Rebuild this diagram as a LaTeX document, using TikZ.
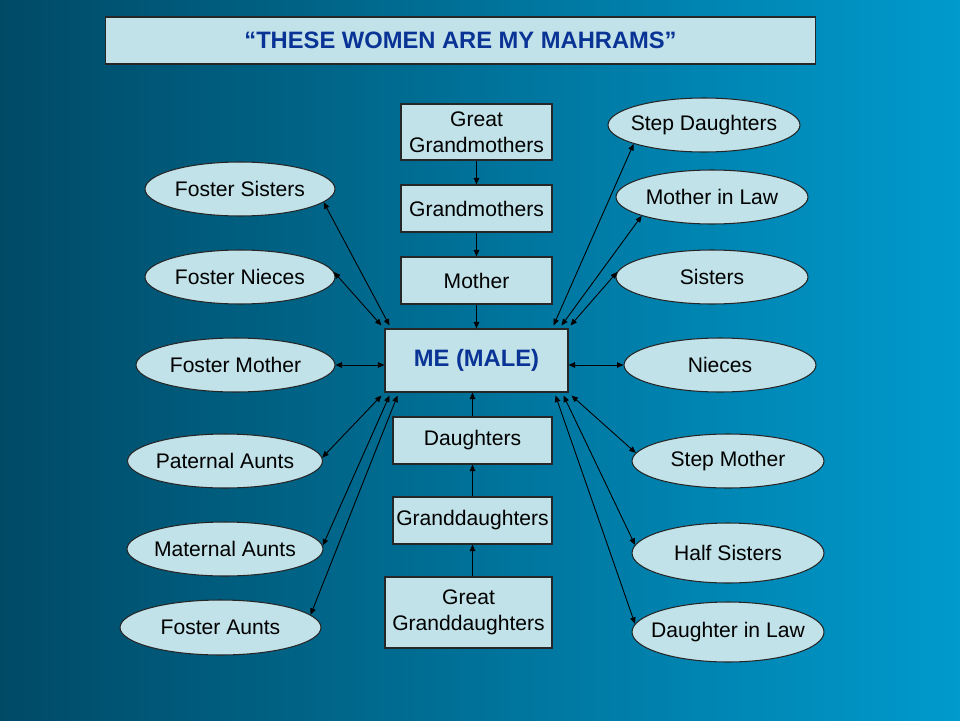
\documentclass[tikz,border=0pt]{standalone}
\usepackage{fontspec}
\setmainfont{Liberation Sans}
\usetikzlibrary{shapes.geometric,arrows.meta,calc}

\definecolor{bgleft}{HTML}{004A66}
\definecolor{bgright}{HTML}{009ACD}
\definecolor{boxfill}{HTML}{C0E2E8}
\definecolor{titleblue}{HTML}{0A3396}

\tikzset{
  box/.style={draw=black!85,fill=boxfill,line width=0.6pt,align=center,inner sep=0,
    minimum width=3.02cm,minimum height=0.94cm,font=\fontsize{12}{14.7}\selectfont},
  oval/.style={ellipse,draw=black!85,fill=boxfill,line width=0.6pt,inner ysep=0,inner xsep=-0.4cm,
    minimum width=3.84cm,minimum height=1.08cm,font=\fontsize{12}{14.7}\selectfont},
  tip/.tip={Triangle[length=1.3mm,width=1.1mm]},
  down/.style={-tip,line width=0.5pt},
  both/.style={tip-tip,line width=0.5pt},
}

\begin{document}
\begin{tikzpicture}[x=0.02cm,y=-0.02cm]
    \fill[left color=bgleft,right color=bgright] (0,0) rectangle (960,720);

    \node(title)[box,minimum width=14.22cm,text=titleblue,font=\bfseries\fontsize{13.5}{16}\selectfont] at (460.5,40.5) {“THESE WOMEN ARE MY MAHRAMS”};

    % middle column
    \node(ggm)[box,minimum height=1.12cm] at (476.5,132) {Great\\Grandmothers};
    \node(gm)[box] at (476.5,208.5) {Grandmothers};
    \node(mo)[box] at (476.5,280.5) {Mother};
    \node(me)[box,minimum width=3.66cm,minimum height=1.26cm,text=titleblue,font=\bfseries\fontsize{13.5}{16}\selectfont] at (476.5,360.5) {ME (MALE)};
    \node(da)[box,minimum width=3.18cm] at (472.5,440.5) {Daughters};
    \node(gd)[box,minimum width=3.18cm] at (472.5,520.5) {Granddaughters};
    \node(ggd)[box,minimum width=3.34cm,minimum height=1.42cm] at (468.5,612.5) {Great\\Granddaughters};

    % left side
    \node(fs)[oval,minimum width=3.8cm] at (240,189) {Foster Sisters};
    \node(fn)[oval,minimum width=3.8cm] at (240,277) {Foster Nieces};
    \node(fm)[oval,minimum width=3.98cm] at (235.5,365) {Foster Mother};
    \node(pa)[oval,minimum width=3.9cm] at (225,461) {Paternal Aunts};
    \node(ma)[oval,minimum width=3.92cm] at (225,549) {Maternal Aunts};
    \node(fa)[oval,minimum width=4.02cm,minimum height=1.1cm] at (220.5,627.5) {Foster Aunts};

    % right side
    \node(sd)[oval] at (704,125) {Step Daughters};
    \node(ml)[oval] at (712,197) {Mother in Law};
    \node(si)[oval] at (712,277) {Sisters};
    \node(ni)[oval] at (720,365) {Nieces};
    \node(sm)[oval] at (728,461) {Step Mother};
    \node(hs)[oval,minimum height=1.2cm] at (728,553) {Half Sisters};
    \node(dl)[oval,minimum height=1.2cm] at (728,632) {Daughter in Law};

    \draw[down] (ggm.south)--(gm.north);
    \draw[down] (gm.south)--(mo.north);
    \draw[down] (mo.south)--(mo.south|-me.north);
    \draw[down] (da.north)--(da.north|-me.south);
    \draw[down] (gd.north)--(da.south);
    \draw[down] (ggd.north-|gd.north)--(gd.south);

    \draw[both] (fs.-9)--($(me.north west)+(5,-3)$);
    \draw[both] (fn.3)--($(me.north west)+(-3,-3)$);
    \draw[both] (fm.east)--(fm.east-|me.west);
    \draw[both] (pa.2)--($(me.south west)+(-3,3)$);
    \draw[both] (ma.2)--($(me.south west)+(5,3)$);
    \draw[both] (fa.8)--($(me.south west)+(13,3)$);

    \draw[both] (sd.195)--($(me.north east)+(-15,-3)$);
    \draw[both] (ml.195)--($(me.north east)+(-7,-3)$);
    \draw[both] (si.177)--($(me.north east)+(2,-3)$);
    \draw[both] (ni.west)--(ni.west-|me.east);
    \draw[both] (sm.175)--($(me.south east)+(3,3)$);
    \draw[both] (hs.175)--($(me.south east)+(-5,3)$);
    \draw[both] (dl.175)--($(me.south east)+(-13,3)$);
\end{tikzpicture}
\end{document}
